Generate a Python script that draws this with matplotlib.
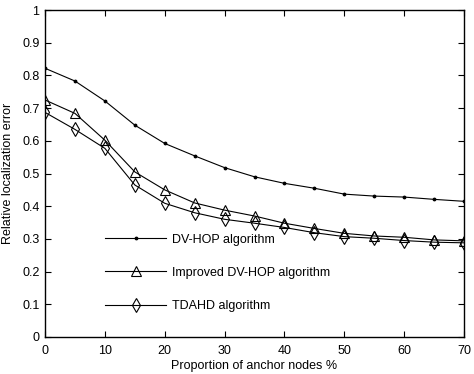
import matplotlib
matplotlib.use("Agg")
import matplotlib.pyplot as plt

plt.rcParams['font.family'] = ['Liberation Sans', 'DejaVu Sans']

x = [0, 5, 10, 15, 20, 25, 30, 35, 40, 45, 50, 55, 60, 65, 70]
dvhop = [0.822, 0.783, 0.722, 0.648, 0.592, 0.554, 0.518, 0.49, 0.47, 0.455, 0.437, 0.431, 0.428, 0.421, 0.415]
improved = [0.725, 0.684, 0.602, 0.505, 0.45, 0.41, 0.388, 0.37, 0.348, 0.332, 0.317, 0.309, 0.305, 0.297, 0.294]
tdahd = [0.687, 0.635, 0.577, 0.465, 0.409, 0.38, 0.36, 0.348, 0.335, 0.319, 0.307, 0.302, 0.295, 0.29, 0.288]
labels = ['DV-HOP algorithm', 'Improved DV-HOP algorithm', 'TDAHD algorithm']
xticks = [0, 10, 20, 30, 40, 50, 60, 70]
yticks = [0, 0.1, 0.2, 0.3, 0.4, 0.5, 0.6, 0.7, 0.8, 0.9, 1]
yticklabels = ['0', '0.1', '0.2', '0.3', '0.4', '0.5', '0.6', '0.7', '0.8', '0.9', '1']

fig = plt.figure(figsize=(4.74, 3.74), dpi=100)
ax = fig.add_axes([0.095, 0.099, 0.884, 0.874])

ax.plot(x, dvhop, color='black', lw=0.8, marker='.', ms=3.5, label=labels[0])
ax.plot(x, improved, color='black', lw=0.8, marker='^', ms=6.5, mfc='none', mew=0.8, label=labels[1])
ax.plot(x, tdahd, color='black', lw=0.8, marker='d', ms=7, mfc='none', mew=0.8, label=labels[2])

ax.set_xlim(0, 70)
ax.set_ylim(0, 1)
ax.set_xticks(xticks)
ax.set_yticks(yticks)
ax.set_yticklabels(yticklabels)
ax.tick_params(direction='in', top=True, right=True, length=4, width=0.8, labelsize=9, colors='black')
ax.tick_params(axis='x', pad=6)
ax.tick_params(axis='y', pad=4)
for s in ax.spines.values():
    s.set_linewidth(1.0)
ax.set_xlabel('Proportion of anchor nodes %', fontsize=9, labelpad=2)
ax.set_ylabel('Relative localization error', fontsize=9, labelpad=6)

leg = ax.legend(loc='upper left', bbox_to_anchor=(10/70, 0.316), frameon=False,
                fontsize=9, handlelength=4.9, handletextpad=0.45, labelspacing=1.69,
                borderpad=0, borderaxespad=0, numpoints=1)

fig.savefig('out.png', dpi=100)
